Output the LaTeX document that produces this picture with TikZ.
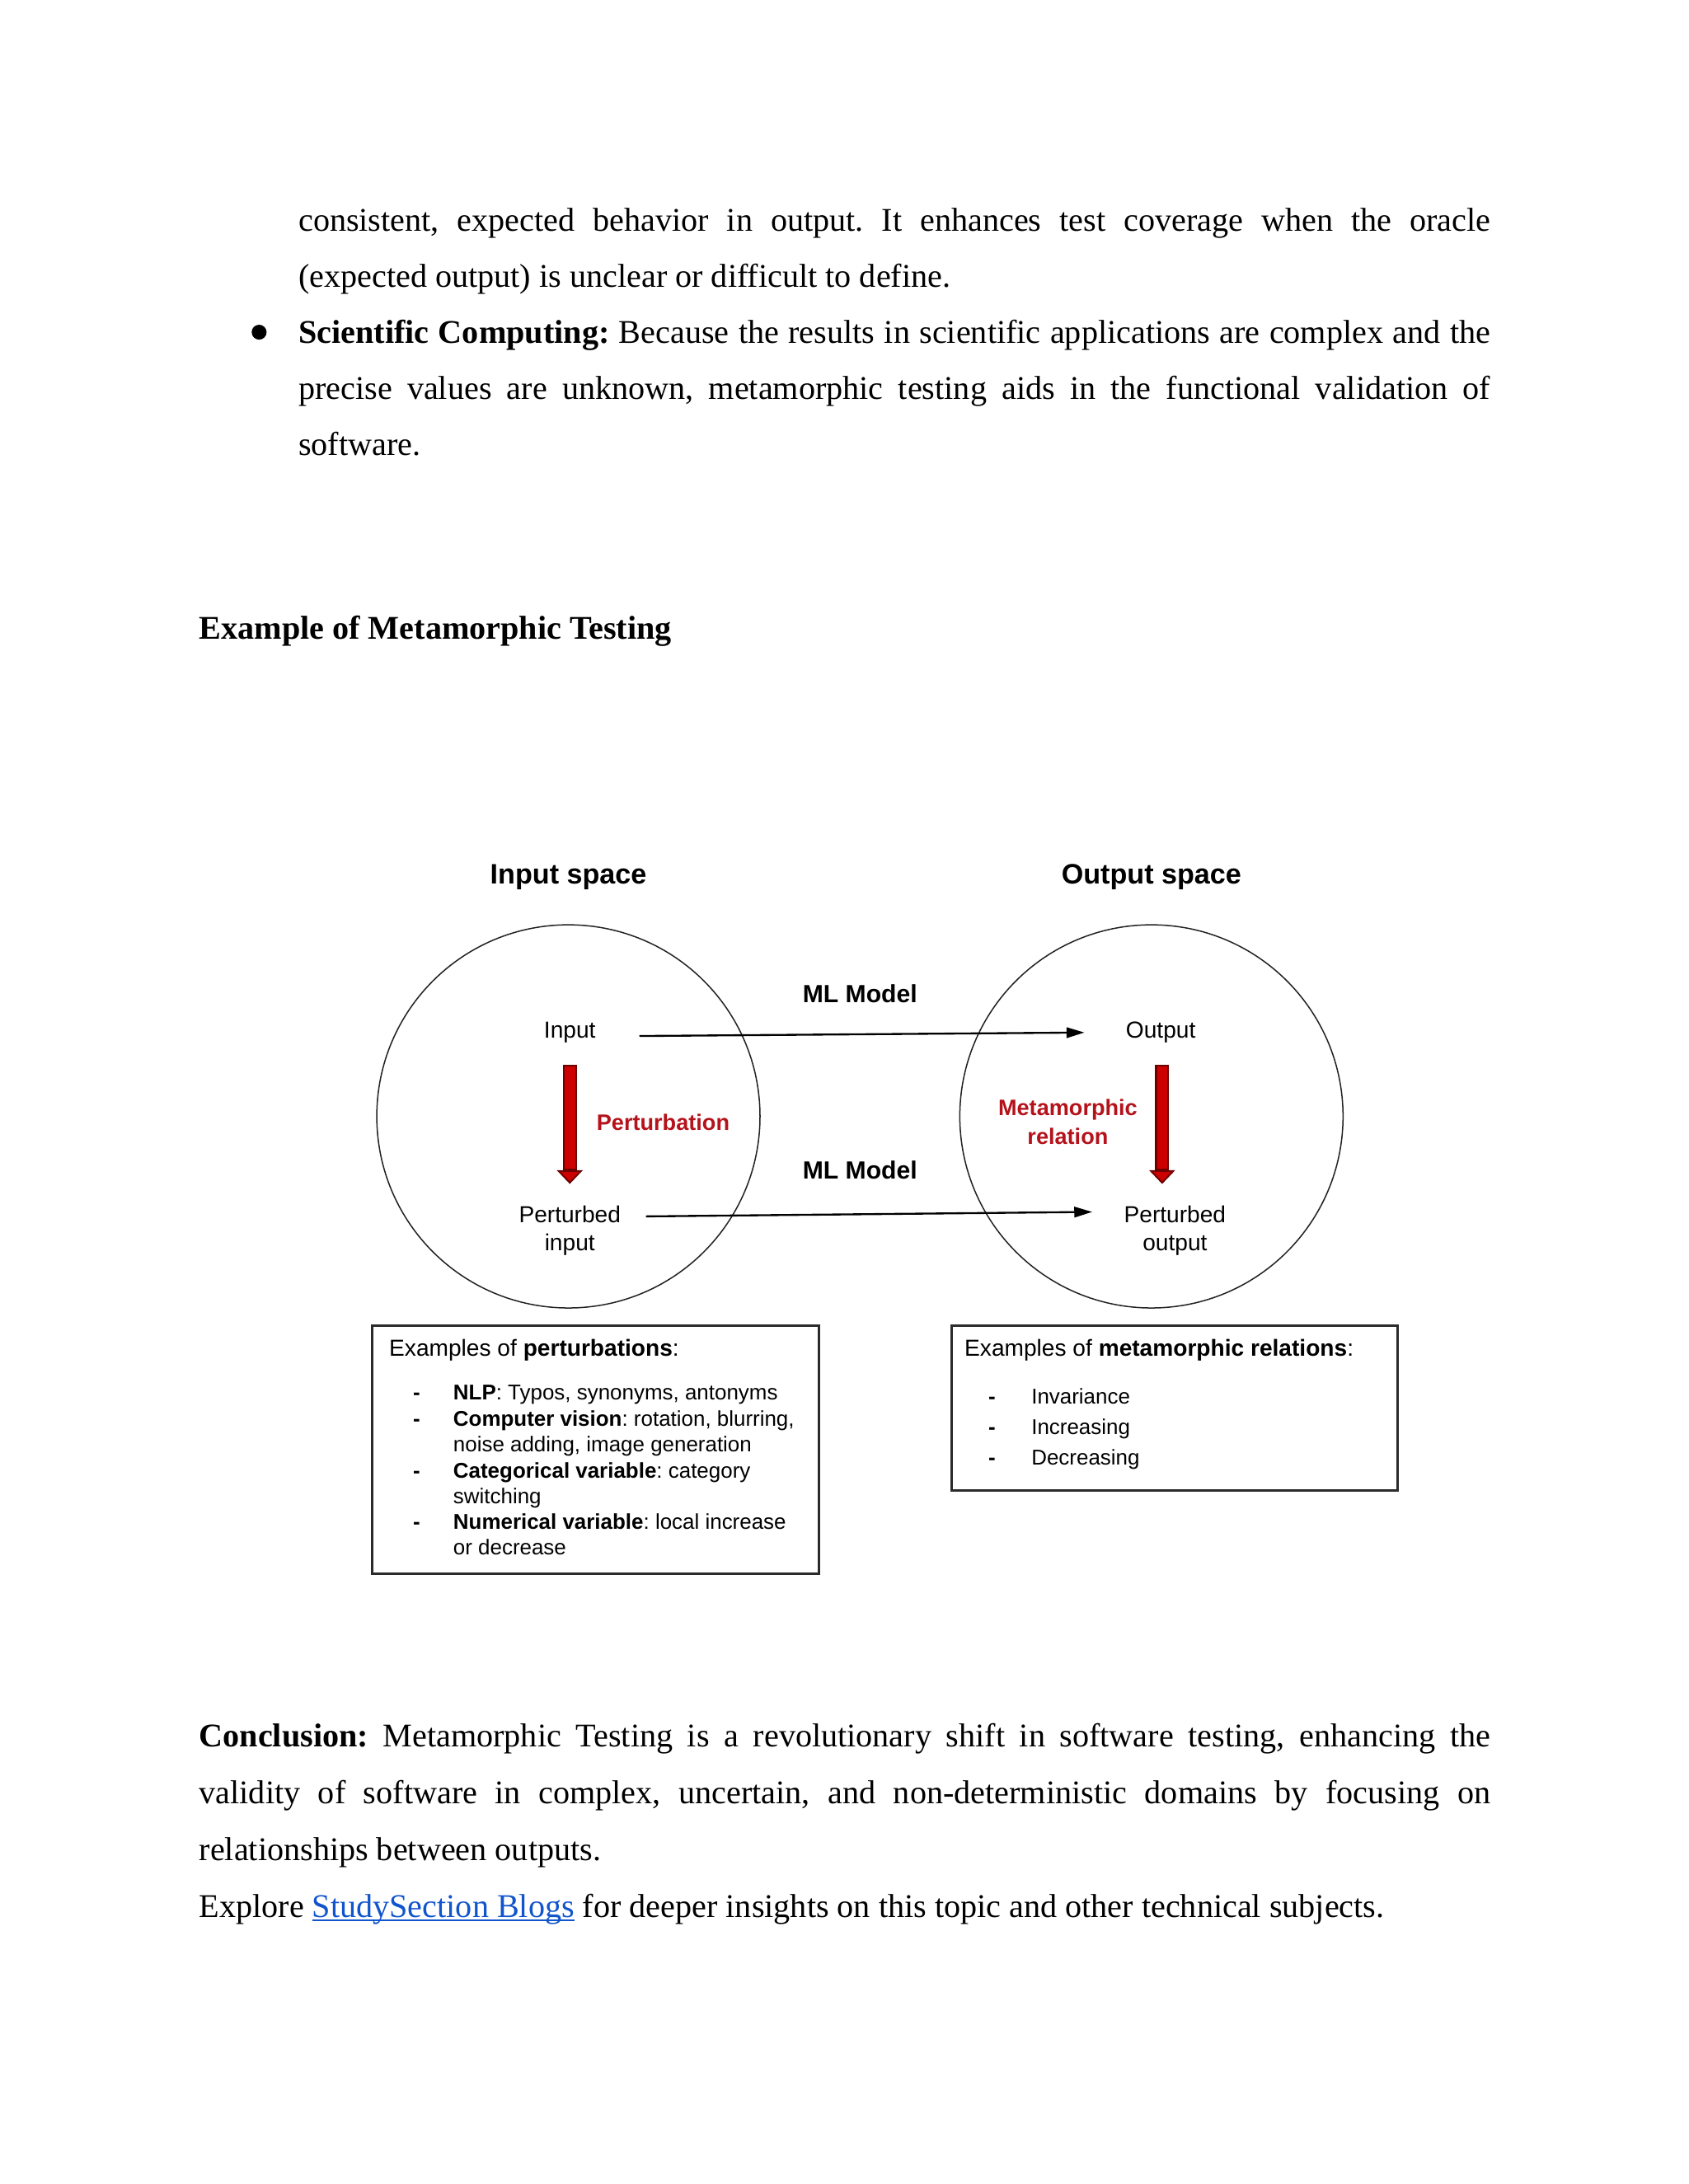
\documentclass[tikz,border=0pt]{standalone}
\usepackage{fontspec}
\setmainfont{Liberation Serif}
\newfontfamily\diagfont{Liberation Sans}
\usetikzlibrary{arrows.meta}
\usetikzlibrary{calc}
\frenchspacing
\definecolor{linkblue}{HTML}{1155CC}
\definecolor{labelred}{HTML}{B5121B}
\definecolor{arrowred}{HTML}{CC0000}
\definecolor{arrowedge}{HTML}{6E0000}
\definecolor{boxline}{HTML}{2B2B2B}
\definecolor{spaceline}{HTML}{222222}
\newcommand{\linkunderline}[1]{\setbox0=\hbox{#1}\rlap{\rule[-1.4pt]{\wd0}{0.6pt}}#1}
\tikzset{
    bodytext/.style={anchor=base west, inner sep=0pt, align=justify, font=\fontsize{12pt}{20.45pt}\selectfont},
    spacetitle/.style={anchor=base, inner sep=0pt, font=\diagfont\bfseries\fontsize{10.2pt}{12pt}\selectfont},
    spacelabel/.style={anchor=base, inner sep=0pt, align=center, font=\diagfont\fontsize{8.4pt}{10.2pt}\selectfont},
    modellabel/.style={anchor=base, inner sep=0pt, font=\diagfont\bfseries\fontsize{9pt}{11pt}\selectfont},
    redlabel/.style={anchor=base, inner sep=0pt, align=center, text=labelred, font=\diagfont\bfseries\fontsize{8.1pt}{10.2pt}\selectfont},
    spacecircle/.style={circle, draw=spaceline, line width=0.45pt, minimum size=138.9pt, inner sep=0pt},
    examplebox/.style={draw=boxline, line width=0.9pt, anchor=north west, inner sep=0pt},
    boxtitle/.style={anchor=base west, inner sep=0pt, font=\diagfont\fontsize{8.4pt}{10pt}\selectfont},
    boxitem/.style={anchor=base west, inner sep=0pt, align=left, font=\diagfont\fontsize{7.75pt}{9.3pt}\selectfont},
    boxdash/.style={anchor=base, inner sep=0pt, font=\diagfont\bfseries\fontsize{7.75pt}{9.3pt}\selectfont},
    mlarrow/.style={line width=0.7pt, -{Triangle[length=6.5pt, width=3.8pt]}},
    pertedge/.style={line width=5pt, draw=arrowedge, -{Triangle[length=5pt, width=9.4pt, fill=arrowred, line width=0.6pt]}},
    pertfill/.style={line width=3.8pt, draw=arrowred, shorten <=0.6pt, shorten >=5.4pt},
}

\begin{document}
\begin{tikzpicture}[x=0.50495pt, y=-0.50495pt]
        \path[use as bounding box, fill=white] (0,0) rectangle (1212,1568);

        % page text above the figure
        \node[bodytext, text width=432pt] (para1) at (213.9,165.7) {consistent, expected behavior in output. It enhances test coverage when the oracle\linebreak (expected output) is unclear or difficult to define.};
        \fill (186,238.5) circle[radius=2.7pt]; % bullet
        \node[bodytext, text width=432pt] (para2) at (213.9,246.2) {\textbf{Scientific Computing:} Because the results in scientific applications are complex and the\linebreak precise values are unknown, metamorphic testing aids in the functional validation of\linebreak software.};
        \node[bodytext, font=\bfseries\fontsize{12pt}{14pt}\selectfont] (heading) at (142.6,459) {Example of Metamorphic Testing};

        % the two spaces (multi-line labels sit on their last baseline)
        \node[spacetitle] (intitle) at (408,634.4) {Input space};
        \node[spacetitle] (outtitle) at (826.5,634.4) {Output space};
        \node[spacecircle] (inspace) at (408,801.5) {};
        \node[spacecircle] (outspace) at (826.5,801.5) {};

        \node[spacelabel] (inp) at (409,745.5) {Input};
        \node[spacelabel] (outp) at (833.2,745.5) {Output};
        \node[spacelabel] (pinp) at (409,897.8) {Perturbed\\input};
        \node[spacelabel] (poutp) at (843.4,897.8) {Perturbed\\output};

        \node[modellabel] (model1) at (617.3,720) {ML Model};
        \node[modellabel] (model2) at (617.3,846.4) {ML Model};
        \node[redlabel] (pertlabel) at (476,811.8) {Perturbation};
        \node[redlabel] (mrlabel) at (766.5,821.3) {Metamorphic\\relation};

        \draw[mlarrow] ($(inp.base)+(50,-1.7)$) -- ($(outp.base)+(-54.8,-4.2)$);
        \draw[mlarrow] ($(pinp.base)+(54.7,-24.5)$) -- ($(poutp.base)+(-59.4,-27.7)$);

        \draw[pertedge] ($(inp.base)+(0,18.9)$) -- ($(pinp.base)+(0,-47.8)$);
        \draw[pertfill] ($(inp.base)+(0,18.9)$) -- ($(pinp.base)+(0,-47.8)$);
        \draw[pertedge] ($(outp.base)+(1,18.9)$) -- ($(poutp.base)+(-9.2,-47.8)$);
        \draw[pertfill] ($(outp.base)+(1,18.9)$) -- ($(poutp.base)+(-9.2,-47.8)$);

        % example boxes
        \node[examplebox, minimum width=162.1pt, minimum height=89.9pt] (pertbox) at (266,951) {};
        \node[boxtitle] (perttitle) at (279,973.5) {Examples of \textbf{perturbations}:};
        \node[boxdash] (dash1) at (299,1005) {-};
        \node[boxitem] (item1) at (325,1005) {\textbf{NLP}: Typos, synonyms, antonyms};
        \node[boxdash] (dash2) at (299,1024) {-};
        \node[boxitem] (item2) at (325,1042.4) {\textbf{Computer vision}: rotation, blurring,\\noise adding, image generation};
        \node[boxdash] (dash3) at (299,1061) {-};
        \node[boxitem] (item3) at (325,1079.4) {\textbf{Categorical variable}: category\\switching};
        \node[boxdash] (dash4) at (299,1098) {-};
        \node[boxitem] (item4) at (325,1116.4) {\textbf{Numerical variable}: local increase\\or decrease};

        \node[examplebox, minimum width=161.6pt, minimum height=59.6pt] (mrbox) at (682,951) {};
        \node[boxtitle] (mrtitle) at (692,973.5) {Examples of \textbf{metamorphic relations}:};
        \node[boxdash] (dash5) at (712,1008) {-};
        \node[boxitem] (item5) at (740,1008) {Invariance};
        \node[boxdash] (dash6) at (712,1030) {-};
        \node[boxitem] (item6) at (740,1030) {Increasing};
        \node[boxdash] (dash7) at (712,1052) {-};
        \node[boxitem] (item7) at (740,1052) {Decreasing};

        % page text below the figure
        \node[bodytext, text width=468pt, font=\fontsize{12pt}{20.6pt}\selectfont] (concl) at (142.6,1254) {\textbf{Conclusion:} Metamorphic Testing is a revolutionary shift in software testing, enhancing the\linebreak validity of software in complex, uncertain, and non-deterministic domains by focusing on\linebreak relationships between outputs.\par Explore \textcolor{linkblue}{\linkunderline{StudySection Blogs}} for deeper insights on this topic and other technical subjects.};
        \end{tikzpicture}
\end{document}
